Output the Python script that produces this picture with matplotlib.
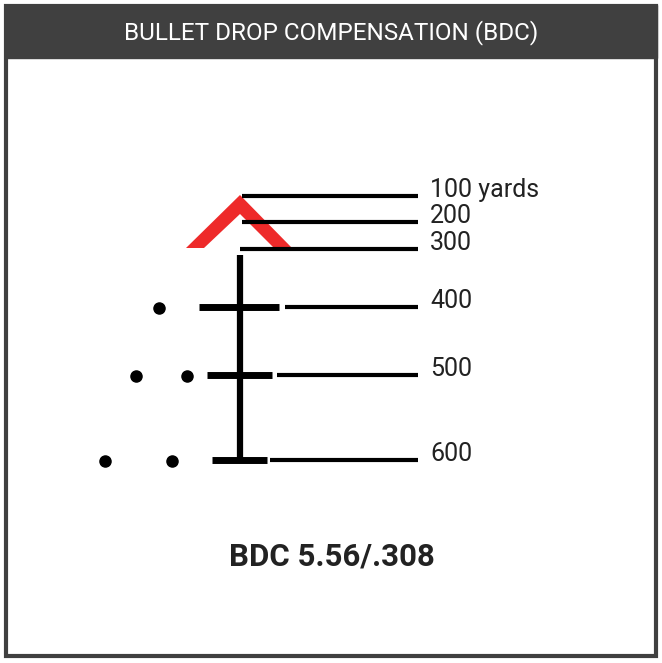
import matplotlib
matplotlib.use("Agg")
import matplotlib.pyplot as plt
from matplotlib.patches import Rectangle, Polygon

labels = ["100 yards", "200", "300", "400", "500", "600"]
line_y = [196, 222, 249, 307, 375, 460]
line_x0 = [242, 242, 240, 285, 277, 270]
bar_x = [None, None, None, (199, 279), (207, 272), (212, 267)]
dots = [[], [], [], [159], [136, 187], [105, 172]]
title = "BULLET DROP COMPENSATION (BDC)"
caption = "BDC 5.56/.308"

gray = "#404040"
fig = plt.figure(figsize=(6.62, 6.63), dpi=100)
ax = fig.add_axes([0, 0, 1, 1])
ax.set_xlim(0, 662); ax.set_ylim(663, 0); ax.axis("off")

ax.add_patch(Rectangle((6, 6), 650, 650, fill=False, ec=gray, lw=3))
ax.add_patch(Rectangle((5, 5), 652, 53, fc=gray, ec=gray))
ax.text(331, 33, title, color="white", ha="center", va="center", fontsize=17.5, family="Roboto")

ax.add_patch(Polygon([(186, 248), (240, 195), (292, 248), (274, 248), (240, 214), (204, 248)],
                     closed=True, fc="#ee2a2a", ec="none", zorder=1))
ax.plot([240, 240], [255, 462], color="black", lw=4.5, zorder=2, solid_capstyle="butt")
for lab, y, x0, b, d in zip(labels, line_y, line_x0, bar_x, dots):
    ax.plot([x0, 418], [y, y], color="black", lw=3, zorder=3, solid_capstyle="butt")
    if b:
        ax.plot(list(b), [y, y], color="black", lw=5, zorder=3, solid_capstyle="butt")
    for dx in d:
        ax.plot(dx, y + 1, "o", color="black", ms=8, zorder=3)
    ax.text(430, y - 6, lab, fontsize=18, va="center", ha="left",
            family="Roboto", color="#222222")
ax.text(332, 556, caption, fontsize=22.5, fontweight="bold", ha="center", va="center",
        family="Roboto", color="#222222")
fig.savefig("out.png", dpi=100)
